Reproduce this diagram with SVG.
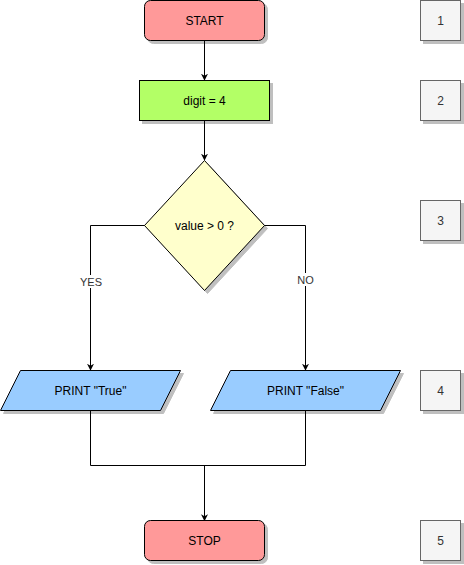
<svg xmlns="http://www.w3.org/2000/svg" width="464" height="565" viewBox="0 0 464 565">
<defs>
<filter id="sh" x="-20%" y="-20%" width="150%" height="150%">
<feGaussianBlur in="SourceAlpha" stdDeviation="0.6"/>
<feOffset dx="3" dy="3" result="o"/>
<feFlood flood-color="#000" flood-opacity="0.25"/>
<feComposite in2="o" operator="in"/>
<feMerge><feMergeNode/><feMergeNode in="SourceGraphic"/></feMerge>
</filter>
<marker id="arr" viewBox="0 0 10 10" refX="9" refY="5" markerWidth="7" markerHeight="7" markerUnits="userSpaceOnUse" orient="auto">
<path d="M0,0 L10,5 L0,10 L3,5 Z" fill="#000"/>
</marker>
</defs>
<style>
.n{stroke:#000;stroke-width:1;filter:url(#sh)}
.b{fill:#f5f5f5;stroke:#666666;stroke-width:1;filter:url(#sh)}
.t{font-family:"Liberation Sans",Arial,sans-serif;font-size:12px;fill:#000;text-anchor:middle;dominant-baseline:central}
.tb{font-family:"Liberation Sans",Arial,sans-serif;font-size:12px;fill:#333333;text-anchor:middle;dominant-baseline:central}
.l{font-family:"Liberation Sans",Arial,sans-serif;font-size:11px;fill:#333333;text-anchor:middle;dominant-baseline:central}
.c{fill:none;stroke:#000;stroke-width:1}
</style>
<rect width="464" height="565" fill="#fff"/>
<g id="connectors">
<path class="c" d="M204.5,41 V80" marker-end="url(#arr)"/>
<path class="c" d="M204.5,120 V160" marker-end="url(#arr)"/>
<path class="c" d="M145,225.5 H90.5 V370" marker-end="url(#arr)"/>
<path class="c" d="M264,225.5 H305.5 V370" marker-end="url(#arr)"/>
<path class="c" d="M90.5,410 V465.5 H305.5 V410"/>
<path class="c" d="M204.5,465.5 V520.5" marker-end="url(#arr)"/>
<rect x="78" y="275" width="26" height="13" fill="#fff"/>
<text class="l" x="91" y="282">YES</text>
<rect x="295" y="273" width="21" height="13" fill="#fff"/>
<text class="l" x="305.5" y="280">NO</text>
</g>
<g id="start">
<rect class="n" x="144.5" y="0.5" width="120" height="40" rx="6" fill="#FF9999"/>
<text class="t" x="204.5" y="20.5">START</text>
</g>
<g id="digit">
<rect class="n" x="139.5" y="80.5" width="130" height="40" fill="#B3FF66"/>
<text class="t" x="204.5" y="100.5">digit = 4</text>
</g>
<g id="decision">
<polygon class="n" points="204.5,160.5 264.5,225.5 204.5,290.5 144.5,225.5" fill="#FFFFCC"/>
<text class="t" x="204.5" y="225.5">value &gt; 0 ?</text>
</g>
<g id="print-true">
<polygon class="n" points="20.5,370.5 180.5,370.5 160.5,410.5 0.5,410.5" fill="#99CCFF"/>
<text class="t" x="90.5" y="390.5">PRINT "True"</text>
</g>
<g id="print-false">
<polygon class="n" points="230.5,370.5 400.5,370.5 380.5,410.5 210.5,410.5" fill="#99CCFF"/>
<text class="t" x="305.5" y="390.5">PRINT "False"</text>
</g>
<g id="stop">
<rect class="n" x="144.5" y="520.5" width="120" height="40" rx="6" fill="#FF9999"/>
<text class="t" x="204.5" y="540.5">STOP</text>
</g>
<g id="step1"><rect class="b" x="420.5" y="0.5" width="40" height="40"/><text class="tb" x="440.5" y="20.5">1</text></g>
<g id="step2"><rect class="b" x="420.5" y="80.5" width="40" height="40"/><text class="tb" x="440.5" y="100.5">2</text></g>
<g id="step3"><rect class="b" x="420.5" y="200.5" width="40" height="40"/><text class="tb" x="440.5" y="220.5">3</text></g>
<g id="step4"><rect class="b" x="420.5" y="370.5" width="40" height="40"/><text class="tb" x="440.5" y="390.5">4</text></g>
<g id="step5"><rect class="b" x="420.5" y="520.5" width="40" height="40"/><text class="tb" x="440.5" y="540.5">5</text></g>
</svg>
